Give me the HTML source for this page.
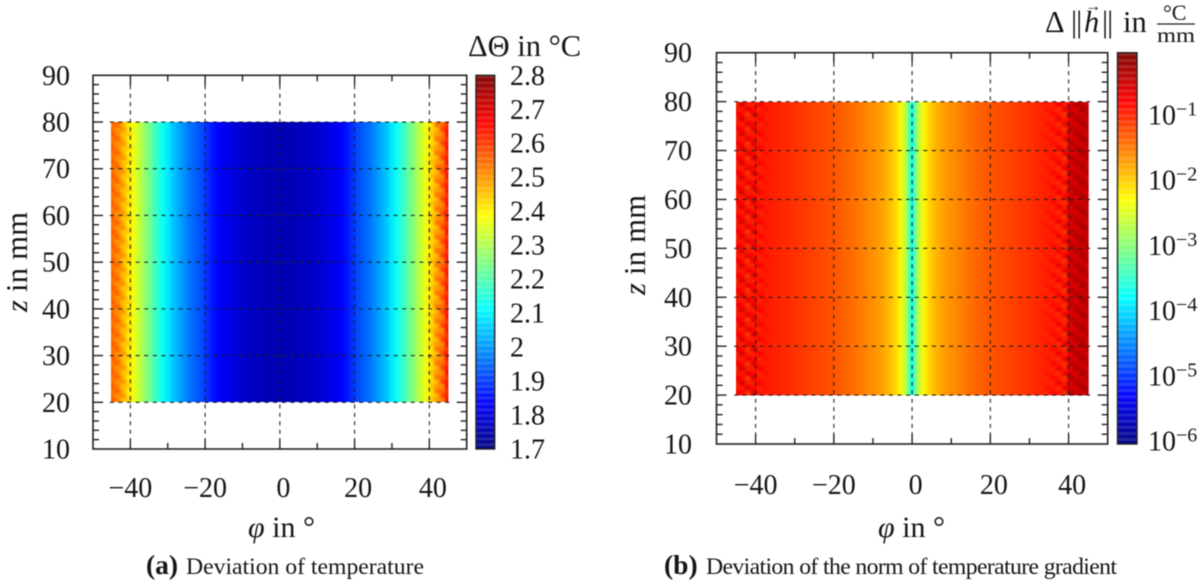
<!DOCTYPE html>
<html lang="en">
<head>
<meta charset="utf-8">
<title>Deviation of temperature and temperature gradient</title>
<style>
html,body{margin:0;padding:0;background:#fff;width:1200px;height:583px;overflow:hidden}
svg{display:block;filter:blur(0.45px)}
text{font-family:"Liberation Serif","DejaVu Serif",serif;fill:#151515}
.t{font-size:28px}
.title{font-size:30.5px}
.axis{font-size:30px}
.cap{font-size:23.7px}
.capb{font-size:27.5px;font-weight:bold}
</style>
</head>
<body>
<svg id="figure" xmlns="http://www.w3.org/2000/svg" width="1200" height="583" viewBox="0 0 1200 583">
  <defs>
    <filter id="heat-blur" filterUnits="userSpaceOnUse" x="0" y="0" width="1200" height="583" color-interpolation-filters="sRGB">
      <feGaussianBlur stdDeviation="1.5 1.1"/>
    </filter>
    <clipPath id="clip-a"><rect x="111" y="122" width="337.4" height="280"/></clipPath>
    <clipPath id="clip-b"><rect x="736" y="102" width="352.7" height="293.4"/></clipPath>
  </defs>
  <rect width="1200" height="583" fill="#fff"/>
  <g id="panel-a"></g>
  <g id="panel-b"></g>

  <text class="title" x="468" y="56">ΔΘ in °C</text>
  <text class="title" transform="translate(27,312) rotate(-90)" textLength="100"><tspan font-style="italic">z</tspan> in mm</text>
  <text class="axis" x="248" y="537"><tspan font-style="italic">φ</tspan> in °</text>
  <text class="capb" x="146" y="574">(a)</text>
  <text class="cap" x="186" y="574" textLength="238">Deviation of temperature</text>

  <text class="title" x="1045" y="32">Δ</text>
  <text class="title" x="1071" y="32" letter-spacing="-1">||</text>
  <text class="title" x="1084" y="32" font-style="italic">h</text>
  <text x="1085" y="11" font-size="16">→</text>
  <text class="title" x="1102" y="32" letter-spacing="-1">||</text>
  <text class="title" x="1123" y="32">in</text>
  <text x="1163" y="20" font-size="22">°C</text>
  <line x1="1157" x2="1195" y1="24" y2="24" stroke="#222" stroke-width="1.2"/>
  <text x="1157" y="42" font-size="21" textLength="38" lengthAdjust="spacingAndGlyphs">mm</text>
  <text class="title" transform="translate(645,295) rotate(-90)" textLength="100"><tspan font-style="italic">z</tspan> in mm</text>
  <text class="axis" x="878" y="537"><tspan font-style="italic">φ</tspan> in °</text>
  <text class="capb" x="664" y="574">(b)</text>
  <text class="cap" x="706" y="574" textLength="411">Deviation of the norm of temperature gradient</text>
</svg>

<script>
// ---- data ----
var phiColumns = [-45,-43.5,-42,-40.5,-39,-37.5,-36,-34.5,-33,-31.5,-30,-28.5,-27,-25.5,-24,-22.5,-21,-19.5,-18,-16.5,-15,-13.5,-12,-10.5,-9,-7.5,-6,-4.5,-3,-1.5,0,1.5,3,4.5,6,7.5,9,10.5,12,13.5,15,16.5,18,19.5,21,22.5,24,25.5,27,28.5,30,31.5,33,34.5,36,37.5,39,40.5,42,43.5,45];
var zRows = [20,21,22,23,24,25,26,27,28,29,30,31,32,33,34,35,36,37,38,39,40,41,42,43,44,45,46,47,48,49,50,51,52,53,54,55,56,57,58,59,60,61,62,63,64,65,66,67,68,69,70,71,72,73,74,75,76,77,78,79];

// temperature deviation (deg C) for each phi column
var thetaValues = [2.55,2.53,2.48,2.42,2.37,2.32,2.27,2.22,2.17,2.13,2.09,2.05,2.02,1.99,1.96,1.94,1.92,1.89,1.86,1.84,1.82,1.81,1.80,1.79,1.78,1.77,1.77,1.76,1.76,1.76,1.76,1.76,1.76,1.76,1.77,1.77,1.78,1.79,1.80,1.81,1.82,1.84,1.86,1.89,1.92,1.94,1.96,1.99,2.02,2.05,2.09,2.13,2.17,2.22,2.27,2.32,2.37,2.43,2.50,2.55,2.65];
var thetaRipple = [.02,.03,.03,.02,.01,0,0,0,0,0,0,0,0,0,0,0,0,0,0,0,0,0,0,0,0,0,0,0,0,0,0,0,0,0,0,0,0,0,0,0,0,0,0,0,0,0,0,0,0,0,0,0,0,0,0,0,.01,.02,.04,.04,.03];

// log10 of gradient-norm deviation for each phi column
var gradientLogValues = [-.82,-.72,-.86,-.74,-.86,-.88,-.92,-.95,-.98,-1.01,-1.04,-1.07,-1.10,-1.13,-1.16,-1.19,-1.22,-1.26,-1.30,-1.35,-1.40,-1.46,-1.52,-1.58,-1.64,-1.72,-1.82,-1.98,-2.20,-2.70,-3.70,-2.70,-2.20,-1.98,-1.82,-1.72,-1.64,-1.58,-1.52,-1.46,-1.40,-1.35,-1.30,-1.26,-1.22,-1.19,-1.16,-1.13,-1.10,-1.07,-1.04,-1.00,-.96,-.92,-.88,-.84,-.86,-.46,-.42,-.36,-.40];
var gradientRipple = [.14,.22,.24,.22,.12,.04,.02,0,0,0,0,0,0,0,0,0,0,0,0,0,0,0,0,0,0,0,0,0,0,0,0,0,0,0,0,0,0,0,0,0,0,0,0,0,0,0,0,0,0,0,0,0,.02,.04,.08,.18,.22,.16,.16,.16,.12];

var rippleShape = [1,-.2,-.9];

var xTicks = [-40,-20,0,20,40];
var xMinorTicks = [-30,-10,10,30];
var yTicks = [10,20,30,40,50,60,70,80,90];
var yMinorTicks = [12,14,16,18,22,24,26,28,32,34,36,38,42,44,46,48,52,54,56,58,62,64,66,68,72,74,76,78,82,84,86,88];
var thetaColorTicks = ["1.7","1.8","1.9","2","2.1","2.2","2.3","2.4","2.5","2.6","2.7","2.8"];
var gradientColorExponents = [-6,-5,-4,-3,-2,-1];

var jetStops = [[0,0,0,127],[.125,0,0,255],[.375,0,255,255],[.625,255,255,0],[.875,255,0,0],[1,127,0,0]];

// ---- drawing ----
var NS = 'http://www.w3.org/2000/svg';
function svgEl(tag, attrs, parent) {
  var e = document.createElementNS(NS, tag);
  for (var k in attrs) e.setAttribute(k, attrs[k]);
  parent.appendChild(e);
  return e;
}
function jet(t) {
  t = Math.max(0, Math.min(1, t));
  for (var i = 1; i < jetStops.length; i++) {
    if (t <= jetStops[i][0]) {
      var a = jetStops[i - 1], b = jetStops[i], f = (t - a[0]) / (b[0] - a[0]);
      return 'rgb(' + Math.round(a[1] + (b[1] - a[1]) * f) + ',' + Math.round(a[2] + (b[2] - a[2]) * f) + ',' + Math.round(a[3] + (b[3] - a[3]) * f) + ')';
    }
  }
  return 'rgb(127,0,0)';
}

function drawPanel(opt) {
  var g = document.getElementById(opt.id);
  var xS = function (v) { return opt.left + (v + 50) / 100 * (opt.right - opt.left); };
  var yS = function (v) { return opt.bottom - (v - 10) / 80 * (opt.bottom - opt.top); };
  var cS = function (v) { return opt.bottom - (v - opt.vMin) / (opt.vMax - opt.vMin) * (opt.bottom - opt.top); };
  var colorT = function (v) { return (v - opt.vMin) / (opt.vMax - opt.vMin); };

  var clipWrap = svgEl('g', {'clip-path': 'url(#' + opt.clip + ')'}, g);
  
  
  var cells = svgEl('g', {filter: 'url(#heat-blur)'}, clipWrap);
  
  
  var lastCol = phiColumns.length - 1, lastRow = zRows.length - 1;
  phiColumns.forEach(function (phi, i) {
    // outermost cells overshoot the clip so the smoothing does not fade the border
    var x0 = xS(phi - .75) - (i === 0 ? 8 : 0), x1 = xS(phi + .75) + (i === lastCol ? 8 : 0);
    zRows.forEach(function (z, j) {
      var v = opt.values[i] + opt.ripple[i] * rippleShape[(j + i) % rippleShape.length];
      var y0 = yS(z + 1) - (j === lastRow ? 8 : 0), y1 = yS(z) + (j === 0 ? 8 : 0);
      var cell = svgEl('rect', {x: x0.toFixed(2), y: y0.toFixed(2), width: (x1 - x0 + .4).toFixed(2), height: (y1 - y0 + .4).toFixed(2), fill: jet(colorT(v))}, cells);
      
      
    });
  });

  xTicks.forEach(function (t) {
    var gl = svgEl('line', {x1: xS(t), x2: xS(t), y1: opt.top + 10, y2: opt.bottom - 10, stroke: '#222', 'stroke-width': 1.1, 'stroke-dasharray': '4 4.4'}, g);
    
    
    [[opt.bottom, opt.bottom - 10], [opt.top, opt.top + 10]].forEach(function (p) {
      var tk = svgEl('line', {x1: xS(t), x2: xS(t), y1: p[0], y2: p[1], stroke: '#222', 'stroke-width': 1.4}, g);
      
      
    });
    var lb = svgEl('text', {x: xS(t) + (t < 0 ? 0 : 3.5), y: opt.xLabelY, 'text-anchor': 'middle', 'class': 't'}, g);
    
    
    lb.textContent = (t < 0 ? '\u2212' : '') + Math.abs(t);
  });
  xMinorTicks.forEach(function (t) {
    [[opt.bottom, opt.bottom - 6], [opt.top, opt.top + 6]].forEach(function (p) {
      var tk = svgEl('line', {x1: xS(t), x2: xS(t), y1: p[0], y2: p[1], stroke: '#222', 'stroke-width': 1.4}, g);
      
      
    });
  });
  yTicks.forEach(function (t) {
    if (t > 10 && t < 90) {
      var gl = svgEl('line', {x1: xS(-45.5), x2: xS(45.5), y1: yS(t), y2: yS(t), stroke: '#222', 'stroke-width': 1.1, 'stroke-dasharray': '4 4.6'}, g);
      
      
      [[opt.left, opt.left + 10], [opt.right, opt.right - 10]].forEach(function (p) {
        var tk = svgEl('line', {x1: p[0], x2: p[1], y1: yS(t), y2: yS(t), stroke: '#222', 'stroke-width': 1.4}, g);
        
        
      });
    }
    var lb = svgEl('text', {x: opt.yLabelX, y: yS(t) + 9.5, 'text-anchor': 'end', 'class': 't'}, g);
    
    
    lb.textContent = t;
  });
  yMinorTicks.forEach(function (t) {
    [[opt.left, opt.left + 6], [opt.right, opt.right - 6]].forEach(function (p) {
      var tk = svgEl('line', {x1: p[0], x2: p[1], y1: yS(t), y2: yS(t), stroke: '#222', 'stroke-width': 1.4}, g);
      
      
    });
  });
  var frame = svgEl('rect', {x: opt.left, y: opt.top, width: opt.right - opt.left, height: opt.bottom - opt.top, fill: 'none', stroke: '#222', 'stroke-width': 1.6}, g);
  
  

  // colorbar
  var bands = 128, h = (opt.bottom - opt.top) / bands;
  var bar = svgEl('g', {}, g);
  
  
  for (var b = 0; b < bands; b++) {
    var band = svgEl('rect', {x: opt.barLeft, y: (opt.bottom - (b + 1) * h).toFixed(2), width: opt.barRight - opt.barLeft, height: (h + .3).toFixed(2), fill: jet((b + .5) / bands), 'fill-opacity': b % 2 ? .85 : .97}, bar);
    
    
  }
  var barFrame = svgEl('rect', {x: opt.barLeft, y: opt.top, width: opt.barRight - opt.barLeft, height: opt.bottom - opt.top, fill: 'none', stroke: '#222', 'stroke-width': 1.4}, g);
  
  
  return {cS: cS, g: g};
}

var a = drawPanel({id: 'panel-a', clip: 'clip-a', left: 93, right: 466.7, top: 75.3, bottom: 449, xLabelY: 497, yLabelX: 70, barLeft: 476, barRight: 494.7, vMin: 1.7, vMax: 2.8, values: thetaValues, ripple: thetaRipple});
thetaColorTicks.forEach(function (s) {
  var lb = svgEl('text', {x: 510, y: a.cS(parseFloat(s)) + 9.5, 'class': 't'}, a.g);
  
  
  lb.textContent = s;
});

var bp = drawPanel({id: 'panel-b', clip: 'clip-b', left: 716.5, right: 1107.7, top: 52.7, bottom: 444, xLabelY: 494, yLabelX: 692, barLeft: 1117.5, barRight: 1137, vMin: -6, vMax: 0, values: gradientLogValues, ripple: gradientRipple});
gradientColorExponents.forEach(function (e) {
  var y = bp.cS(e) + 6.5;
  var lb = svgEl('text', {x: 1148, y: y, 'class': 't'}, bp.g);
  
  
  lb.textContent = '10';
  var ex = svgEl('text', {x: 1176, y: y - 9, 'font-size': 20}, bp.g);
  
  
  ex.textContent = '\u2212' + Math.abs(e);
});
</script>
</body>
</html>
